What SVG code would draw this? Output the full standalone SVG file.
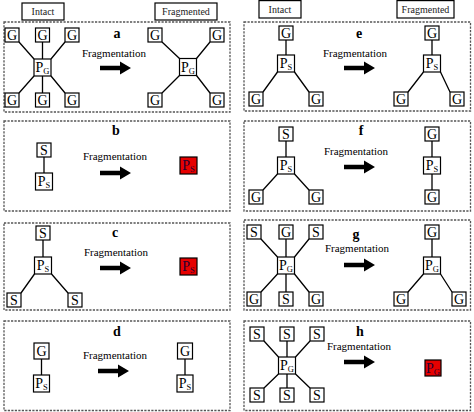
<svg xmlns="http://www.w3.org/2000/svg" width="474" height="412" viewBox="0 0 474 412" font-family="Liberation Serif, Times New Roman, serif">
<style>
text{font-family:'Liberation Serif','Times New Roman',serif}
.panel{fill:none;stroke:#555;stroke-width:1.3;stroke-dasharray:2.2,1.3}
.hdr{fill:#fff;stroke:#000;stroke-width:1.2}
.hdrt{font-size:10px;text-anchor:middle;fill:#222}
.box{fill:#fff;stroke:#000;stroke-width:1.2}
.red{fill:#e60000;stroke:#000;stroke-width:1.2}
.t{font-size:14px;text-anchor:middle;fill:#000}
.tr{font-size:14px;text-anchor:middle;fill:#2a0030}
.sub{font-size:8.5px}
.lbl{font-size:14px;font-weight:bold;text-anchor:middle;fill:#000}
.fr{font-size:11px;text-anchor:middle;fill:#000}
.ln{stroke:#000;stroke-width:1.3;fill:none}
</style>
<defs>
<path id="arr" d="M0,-2.2 H20 V-6.5 L31,0 L20,6.5 V2.2 H0 Z" fill="#000"/>
</defs>
<rect width="474" height="412" fill="#fff"/>

<g id="headers">
<rect class="hdr" x="22" y="3" width="42" height="17"/>
<text class="hdrt" x="43" y="15">Intact</text>
<rect class="hdr" x="155" y="3" width="62" height="17"/>
<text class="hdrt" x="186" y="15">Fragmented</text>
<rect class="hdr" x="259" y="0.6" width="42" height="17.4"/>
<text class="hdrt" x="280" y="13">Intact</text>
<rect class="hdr" x="397" y="0.6" width="57" height="17.4"/>
<text class="hdrt" x="425.5" y="13">Fragmented</text>
</g>

<g id="panels">
<rect class="panel" x="4" y="22" width="226" height="90"/>
<rect class="panel" x="4" y="121" width="226" height="90"/>
<rect class="panel" x="4" y="223" width="226" height="87"/>
<rect class="panel" x="4" y="321" width="226" height="89.5"/>
<rect class="panel" x="244" y="22" width="226.5" height="89"/>
<rect class="panel" x="244" y="121" width="226.5" height="90"/>
<rect class="panel" x="244" y="220" width="226.5" height="90"/>
<rect class="panel" x="244" y="321" width="226.5" height="89.5"/>
</g>

<g id="connectors">
<path class="ln" d="M34,59 L19,42 M51,59 L65,42 M42.5,42 V59 M34,76 L19,93 M51,76 L65,93 M42.5,76 V93"/>
<path class="ln" d="M179.5,58.5 L162,42 M196.5,58.5 L210,42 M179.5,75.5 L162,93 M196.5,75.5 L210,93"/>
<path class="ln" d="M286,40 V55 M277.5,72 L263,92 M294.5,72 L309,92"/>
<path class="ln" d="M432,40 V55 M423.5,72 L408,92 M440.5,72 L450,92"/>
<path class="ln" d="M44,157 V173"/>
<path class="ln" d="M286,141 V157 M277.5,174 L263,190 M294.5,174 L309,190"/>
<path class="ln" d="M432,141 V157 M432,174 V190"/>
<path class="ln" d="M43,240 V257 M34.5,274 L21,293 M51.5,274 L68,293"/>
<path class="ln" d="M286,239 V257 M277.5,257 L261,239 M294.5,257 L309,239 M277.5,274 L261,292 M286,274 V292 M294.5,274 L309,292"/>
<path class="ln" d="M432,239 V257 M423.5,274 L408,292 M440.5,274 L452,292"/>
<path class="ln" d="M41.5,359 V375 M185,359 V375"/>
<path class="ln" d="M287,341 V357 M278.5,357 L264,341 M295.5,357 L310,341 M278.5,374 L264,388 M287,374 V388 M295.5,374 L310,388"/>
</g>

<g id="panel-a">
<text class="lbl" x="117" y="38">a</text>
<text class="fr" x="114" y="57">Fragmentation</text>
<use href="#arr" x="100" y="68"/>
<rect class="box" x="5" y="28" width="14" height="14"/><text class="t" x="12" y="40">G</text>
<rect class="box" x="35.5" y="28" width="14" height="14"/><text class="t" x="42.5" y="40">G</text>
<rect class="box" x="65" y="28" width="14" height="14"/><text class="t" x="72" y="40">G</text>
<rect class="box" x="34" y="59" width="17" height="17"/><text class="t" x="42.5" y="72">P<tspan class="sub" dy="2">G</tspan></text>
<rect class="box" x="5" y="93" width="14" height="14"/><text class="t" x="12" y="105">G</text>
<rect class="box" x="35.5" y="93" width="14" height="14"/><text class="t" x="42.5" y="105">G</text>
<rect class="box" x="65" y="93" width="14" height="14"/><text class="t" x="72" y="105">G</text>
<rect class="box" x="148" y="28" width="14" height="14"/><text class="t" x="155" y="40">G</text>
<rect class="box" x="210" y="28" width="14" height="14"/><text class="t" x="217" y="40">G</text>
<rect class="box" x="179.5" y="58.5" width="17" height="17"/><text class="t" x="188" y="71.5">P<tspan class="sub" dy="2">G</tspan></text>
<rect class="box" x="148" y="93" width="14" height="14"/><text class="t" x="155" y="105">G</text>
<rect class="box" x="210" y="93" width="14" height="14"/><text class="t" x="217" y="105">G</text>
</g>

<g id="panel-e">
<text class="lbl" x="359" y="38">e</text>
<text class="fr" x="355" y="57">Fragmentation</text>
<use href="#arr" x="344" y="68"/>
<rect class="box" x="279" y="26" width="14" height="14"/><text class="t" x="286" y="38">G</text>
<rect class="box" x="277.5" y="55" width="17" height="17"/><text class="t" x="286" y="68">P<tspan class="sub" dy="2">S</tspan></text>
<rect class="box" x="249" y="92" width="14" height="14"/><text class="t" x="256" y="104">G</text>
<rect class="box" x="309" y="92" width="14" height="14"/><text class="t" x="316" y="104">G</text>
<rect class="box" x="425" y="26" width="14" height="14"/><text class="t" x="432" y="38">G</text>
<rect class="box" x="423.5" y="55" width="17" height="17"/><text class="t" x="432" y="68">P<tspan class="sub" dy="2">S</tspan></text>
<rect class="box" x="394" y="92" width="14" height="14"/><text class="t" x="401" y="104">G</text>
<rect class="box" x="450" y="92" width="14" height="14"/><text class="t" x="457" y="104">G</text>
</g>

<g id="panel-b">
<text class="lbl" x="116" y="135">b</text>
<text class="fr" x="115" y="160">Fragmentation</text>
<use href="#arr" x="100" y="173"/>
<rect class="box" x="37" y="143" width="14" height="14"/><text class="t" x="44" y="155">S</text>
<rect class="box" x="35.5" y="173" width="17" height="17"/><text class="t" x="44" y="186">P<tspan class="sub" dy="2">S</tspan></text>
<rect class="red" x="180" y="157" width="17" height="17"/><text class="tr" x="188.5" y="170">P<tspan class="sub" dy="2">S</tspan></text>
</g>

<g id="panel-f">
<text class="lbl" x="361" y="135">f</text>
<text class="fr" x="356" y="155">Fragmentation</text>
<use href="#arr" x="344" y="167"/>
<rect class="box" x="279" y="127" width="14" height="14"/><text class="t" x="286" y="139">S</text>
<rect class="box" x="277.5" y="157" width="17" height="17"/><text class="t" x="286" y="170">P<tspan class="sub" dy="2">S</tspan></text>
<rect class="box" x="249" y="190" width="14" height="14"/><text class="t" x="256" y="202">G</text>
<rect class="box" x="309" y="190" width="14" height="14"/><text class="t" x="316" y="202">G</text>
<rect class="box" x="425" y="127" width="14" height="14"/><text class="t" x="432" y="139">G</text>
<rect class="box" x="423.5" y="157" width="17" height="17"/><text class="t" x="432" y="170">P<tspan class="sub" dy="2">S</tspan></text>
<rect class="box" x="425" y="190" width="14" height="14"/><text class="t" x="432" y="202">G</text>
</g>

<g id="panel-c">
<text class="lbl" x="115" y="237">c</text>
<text class="fr" x="116" y="256">Fragmentation</text>
<use href="#arr" x="100" y="268"/>
<rect class="box" x="36" y="226" width="14" height="14"/><text class="t" x="43" y="238">S</text>
<rect class="box" x="34.5" y="257" width="17" height="17"/><text class="t" x="43" y="270">P<tspan class="sub" dy="2">S</tspan></text>
<rect class="box" x="7" y="293" width="14" height="14"/><text class="t" x="14" y="305">S</text>
<rect class="box" x="68" y="293" width="14" height="14"/><text class="t" x="75" y="305">S</text>
<rect class="red" x="180" y="258" width="17" height="17"/><text class="tr" x="188.5" y="271">P<tspan class="sub" dy="2">S</tspan></text>
</g>

<g id="panel-g">
<text class="lbl" x="356" y="239">g</text>
<text class="fr" x="357" y="252">Fragmentation</text>
<use href="#arr" x="344" y="265"/>
<rect class="box" x="247" y="225" width="14" height="14"/><text class="t" x="254" y="237">S</text>
<rect class="box" x="279" y="225" width="14" height="14"/><text class="t" x="286" y="237">G</text>
<rect class="box" x="309" y="225" width="14" height="14"/><text class="t" x="316" y="237">S</text>
<rect class="box" x="277.5" y="257" width="17" height="17"/><text class="t" x="286" y="270">P<tspan class="sub" dy="2">G</tspan></text>
<rect class="box" x="247" y="292" width="14" height="14"/><text class="t" x="254" y="304">G</text>
<rect class="box" x="279" y="292" width="14" height="14"/><text class="t" x="286" y="304">S</text>
<rect class="box" x="309" y="292" width="14" height="14"/><text class="t" x="316" y="304">G</text>
<rect class="box" x="425" y="225" width="14" height="14"/><text class="t" x="432" y="237">G</text>
<rect class="box" x="423.5" y="257" width="17" height="17"/><text class="t" x="432" y="270">P<tspan class="sub" dy="2">G</tspan></text>
<rect class="box" x="394" y="292" width="14" height="14"/><text class="t" x="401" y="304">G</text>
<rect class="box" x="452" y="292" width="14" height="14"/><text class="t" x="459" y="304">G</text>
</g>

<g id="panel-d">
<text class="lbl" x="117" y="336">d</text>
<text class="fr" x="115" y="359">Fragmentation</text>
<use href="#arr" x="98" y="371"/>
<rect class="box" x="34" y="343" width="15" height="16"/><text class="t" x="41.5" y="356">G</text>
<rect class="box" x="33.5" y="375" width="16" height="17"/><text class="t" x="41.5" y="388">P<tspan class="sub" dy="2">S</tspan></text>
<rect class="box" x="177.5" y="343" width="15" height="16"/><text class="t" x="185" y="356">G</text>
<rect class="box" x="177" y="375" width="16" height="17"/><text class="t" x="185" y="388">P<tspan class="sub" dy="2">S</tspan></text>
</g>

<g id="panel-h">
<text class="lbl" x="360" y="336">h</text>
<text class="fr" x="359" y="350">Fragmentation</text>
<use href="#arr" x="344" y="362"/>
<rect class="box" x="250" y="327" width="14" height="14"/><text class="t" x="257" y="339">S</text>
<rect class="box" x="280" y="327" width="14" height="14"/><text class="t" x="287" y="339">S</text>
<rect class="box" x="310" y="327" width="14" height="14"/><text class="t" x="317" y="339">S</text>
<rect class="box" x="278.5" y="357" width="17" height="17"/><text class="t" x="287" y="370">P<tspan class="sub" dy="2">G</tspan></text>
<rect class="box" x="250" y="388" width="14" height="14"/><text class="t" x="257" y="400">S</text>
<rect class="box" x="280" y="388" width="14" height="14"/><text class="t" x="287" y="400">S</text>
<rect class="box" x="310" y="388" width="14" height="14"/><text class="t" x="317" y="400">S</text>
<rect class="red" x="425" y="360" width="16" height="16"/><text class="tr" x="433" y="372.5">P<tspan class="sub" dy="2">G</tspan></text>
</g>
</svg>
